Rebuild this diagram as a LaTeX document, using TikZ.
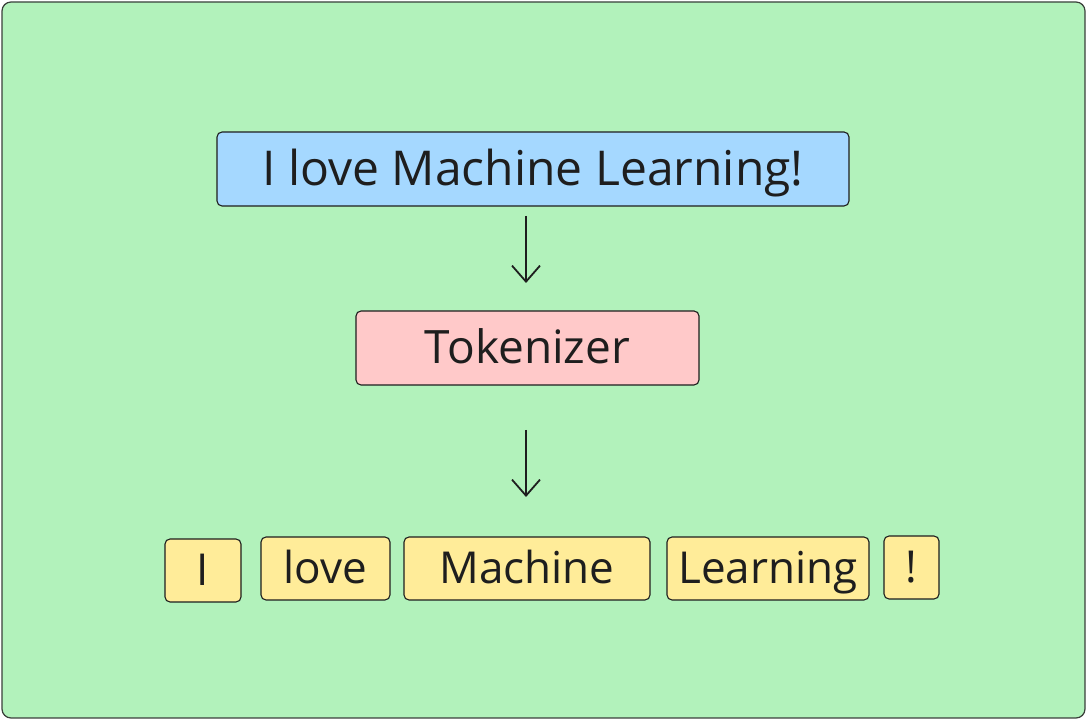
\documentclass[tikz,border=0pt]{standalone}
\usepackage{fontspec}
\setmainfont{Open Sans}
\usetikzlibrary{arrows.meta}
\definecolor{bggreen}{HTML}{B2F2BB}
\definecolor{boxblue}{HTML}{A5D8FF}
\definecolor{boxred}{HTML}{FFC9C9}
\definecolor{boxyellow}{HTML}{FFEC99}
\definecolor{inkc}{HTML}{1E1E1E}
\definecolor{framec}{HTML}{3A3F3A}
\begin{document}
\begin{tikzpicture}[x=1pt,y=1pt,
  box/.style={draw=inkc, line width=1.1pt, rounded corners=5pt, inner sep=0pt, text=inkc, text depth=0pt},
  bigtxt/.style={font=\fontsize{48}{52}\selectfont, text height=33pt},
  midtxt/.style={font=\fontsize{46}{50}\selectfont, text height=32pt},
  tokbox/.style={box, fill=boxyellow, minimum height=63pt, font=\fontsize{44}{48}\selectfont, text height=31pt},
  arr/.style={draw=inkc, line width=1.8pt, -{Straight Barb[length=16pt, width=28pt, line width=1.8pt]}}]
\useasboundingbox (0,0) rectangle (1087,720);
\draw[fill=bggreen, draw=framec, line width=1.2pt, rounded corners=9pt] (2,2) rectangle (1085,718);
\node[box, fill=boxblue, minimum width=632pt, minimum height=74pt, bigtxt] (sent) at (533,551) {I love Machine Learning!};
\node[box, fill=boxred, minimum width=343pt, minimum height=74pt, midtxt] (tok) at (527.5,372) {Tokenizer};
\node[tokbox, minimum width=76pt] (tI) at (203,149.5) {I};
\node[tokbox, minimum width=129pt] (tlove) at (325.5,151.5) {love};
\node[tokbox, minimum width=246pt] (tmach) at (527,151.5) {Machine};
\node[tokbox, minimum width=202pt] (tlearn) at (768,151.5) {Learning};
\node[tokbox, minimum width=55pt] (tbang) at (911.5,152.5) {!};
\coordinate (a1s) at (526,504);
\coordinate (a1e) at (526,437);
\coordinate (a2s) at (526,290);
\coordinate (a2e) at (526,223);
\draw[arr] (a1s) -- (a1e);
\draw[arr] (a2s) -- (a2e);
\end{tikzpicture}
\end{document}
